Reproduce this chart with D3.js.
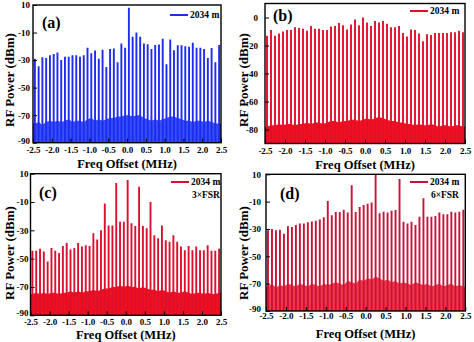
<!DOCTYPE html>
<html>
<head>
<meta charset="utf-8">
<script src="https://d3js.org/d3.v7.min.js"></script>
<style>
  body { margin: 0; background: #fff; }
  text { font-family: "Liberation Serif", "Times New Roman", serif; font-weight: bold; fill: #000; }
  .tick text { font-size: 9px; }
</style>
</head>
<body>
<script>
// peak positions (MHz offset), shared by all four spectra
var freqs = [-2.45, -2.35, -2.25, -2.15, -2.05, -1.95, -1.85, -1.75, -1.65, -1.55,
             -1.45, -1.35, -1.25, -1.15, -1.05, -0.95, -0.85, -0.75, -0.65, -0.55,
             -0.45, -0.35, -0.25, -0.15, -0.05, 0.05, 0.15, 0.25, 0.35, 0.45,
             0.55, 0.65, 0.75, 0.85, 0.95, 1.05, 1.15, 1.25, 1.35, 1.45,
             1.55, 1.65, 1.75, 1.85, 1.95, 2.05, 2.15, 2.25, 2.35, 2.45];

// (a) peak power, dBm
var peaksA = [-29, -34.5, -28, -28.5, -26.5, -25.5, -24.5, -30, -27.5, -27.5,
              -26.5, -26.5, -27.5, -26.5, -21, -25, -23, -29, -22.5, -35,
              -22, -21.5, -31.5, -18, -21, 8, -13, -10, -13, -18,
              -18.5, -22, -19, -18.7, -14.5, -33, -15, -22.8, -19.2, -19.2,
              -20, -20.4, -17.5, -21.1, -21, -22, -28.5, -21.3, -31.5, -19];
var noiseA = [-76, -75, -77, -75, -74, -75, -74, -75, -74, -73, -75, -74, -74, -75, -73, -72, -74, -73, -74, -73,
              -72, -72, -71, -71, -70, -70, -71, -70, -70, -72, -73, -74, -73, -74, -73, -72, -71, -71, -72, -73,
              -74, -74, -75, -74, -74, -75, -74, -75, -76, -76];

// (b)
var peaksB = [-13, -9, -13, -11.5, -10, -9, -9, -7, -7.5, -8,
              -9.5, -6, -8, -8, -9, -9, -6.5, -6, -4, -5.5,
              -8.5, -5, -1.5, -5.5, 0, -3.5, -6, -2.5, -3.5, -2.5,
              -4.5, -7, -7, -6, -11, -13.5, -8.5, -9, -11.5, -17,
              -12, -12.5, -11, -11, -11, -11, -10.5, -10.5, -9.5, -10.5];
var noiseB = [-78, -77, -77, -76, -77, -76, -76, -77, -76, -76, -75, -76, -75, -75, -76, -75, -74, -74, -75, -74,
              -74, -73, -73, -74, -73, -72, -73, -72, -71, -72, -73, -74, -74, -75, -75, -76, -76, -77, -76, -77,
              -77, -76, -77, -78, -77, -77, -78, -77, -77, -78];

// (c) 3xFSR
var peaksC = [-44.5, -44.5, -43, -45, -52, -42.5, -44.5, -46, -41, -39,
              -43.5, -42.5, -39, -41.5, -40.5, -41, -32, -36.5, -30, -11,
              -26.5, -26.5, 3.5, -24, -24, 5.5, -25, -27, 0.8, -27,
              -28.5, -10, -33.5, -35.5, -26.5, -37, -38, -33.5, -38, -41.5,
              -44, -41, -44, -41.5, -44, -44, -40.5, -44.5, -44.5, -43];
var noiseC = [-75, -74, -75, -74, -75, -74, -74, -75, -74, -74, -73, -74, -73, -74, -73, -73, -72, -73, -72, -71,
              -71, -70, -70, -69, -70, -69, -70, -70, -71, -70, -71, -72, -72, -73, -72, -73, -74, -73, -74, -74,
              -73, -74, -75, -74, -74, -75, -74, -75, -75, -74];

// (d) 6xFSR
var peaksD = [-31, -30, -31, -30.5, -33.5, -28, -28.5, -27, -26, -26,
              -25, -24.5, -24, -23, -21.5, -9.5, -20, -17.5, -17.5, -16,
              -18, 2, -17.5, -14, -12.5, -11.5, -10.7, 9.5, -18.5, -17.4,
              -18, -16.6, -16.1, 6.6, -24.7, -26, -24.7, -27, -21, -7.6,
              -21, -21, -20.5, -18, -19.3, -19.3, -17.4, -18, -17.4, -16];
var noiseD = [-72, -70, -73, -71, -72, -70, -71, -72, -70, -71, -72, -70, -71, -72, -70, -71, -70, -69, -70, -71,
              -68, -69, -70, -67, -68, -66, -67, -65, -66, -68, -67, -69, -68, -70, -69, -70, -71, -69, -70, -71,
              -70, -72, -71, -70, -72, -71, -70, -72, -71, -72];

var xTicks = [-2.5, -2.0, -1.5, -1.0, -0.5, 0.0, 0.5, 1.0, 1.5, 2.0, 2.5];
var yTicksACD = [10, -10, -30, -50, -70, -90];
var yTicksB = [0, -20, -40, -60, -80];

var width = 474, height = 342;

var svg = d3.select("body").append("svg")
    .attr("width", width)
    .attr("height", height);

svg.append("rect").attr("width", width).attr("height", height).attr("fill", "#fff");

var panels = [
  { id: "a", label: "(a)", peaks: peaksA, noise: noiseA, yTicks: yTicksACD,
    x0: 33, x1: 221, y0: 5, y1: 142.7, peakColor: "#1f2bf0", bandColor: "#3550f8",
    xPad: 3.5, yPad: 3, titleY: 164, yTitleX: 9, yTitleY: 80,
    labelX: 42, labelY: 28, legX: 170, legY: 15, extra: null },
  { id: "b", label: "(b)", peaks: peaksB, noise: noiseB, yTicks: yTicksB,
    x0: 265, x1: 465, y0: 3.5, y1: 143.5, peakColor: "#e0102a", bandColor: "#f2101e",
    xPad: 4, yPad: 7, titleY: 164.5, yTitleX: 243, yTitleY: 80,
    labelX: 273, labelY: 21, legX: 410, legY: 11, extra: null },
  { id: "c", label: "(c)", peaks: peaksC, noise: noiseC, yTicks: yTicksACD,
    x0: 30.5, x1: 221, y0: 173.7, y1: 315.3, peakColor: "#dc102e", bandColor: "#f2101e",
    xPad: 3, yPad: 2, titleY: 334.5, yTitleX: 9, yTitleY: 253,
    labelX: 39, labelY: 198, legX: 171, legY: 182, extra: "3×FSR" },
  { id: "d", label: "(d)", peaks: peaksD, noise: noiseD, yTicks: yTicksACD,
    x0: 266, x1: 465.3, y0: 174.3, y1: 311, peakColor: "#c81238", bandColor: "#ee1428",
    xPad: 1.5, yPad: 5, titleY: 334, yTitleX: 243, yTitleY: 253,
    labelX: 280, labelY: 199, legX: 410, legY: 182, extra: "6×FSR" }
];

panels.forEach(drawPanel);

function drawPanel(p) {
  var x = d3.scaleLinear().domain([-2.5, 2.5]).range([p.x0, p.x1]);
  var y = d3.scaleLinear().domain([-90, 10]).range([p.y1, p.y0]);

  var g = svg.append("g");

  svg.append("clipPath").attr("id", "clip-" + p.id)
    .append("rect")
    .attr("x", p.x0).attr("y", p.y0)
    .attr("width", p.x1 - p.x0).attr("height", p.y1 - p.y0);

  var plot = g.append("g").attr("clip-path", "url(#clip-" + p.id + ")");

  // noise floor band
  var pts = [{ f: -2.5, n: p.noise[0] }];
  freqs.forEach(function(f, i) { pts.push({ f: f, n: p.noise[i] }); });
  pts.push({ f: 2.5, n: p.noise[p.noise.length - 1] });

  var area = d3.area()
    .x(function(d) { return x(d.f); })
    .y0(y(-90))
    .y1(function(d) { return y(d.n); });

  plot.append("path")
    .datum(pts)
    .attr("d", area)
    .attr("fill", p.bandColor)
    .attr("fill-opacity", p.id == "d" ? 0.85 : 1);

  // comb lines
  plot.selectAll(".peak")
    .data(freqs)
    .enter()
    .append("line")
    .attr("class", "peak")
    .attr("x1", function(d) { return x(d); })
    .attr("x2", function(d) { return x(d); })
    .attr("y1", y(-90))
    .attr("y2", function(d, i) { return y(p.peaks[i]); })
    .attr("stroke", p.peakColor)
    .attr("stroke-width", 1.9);

  // axes, ticks pointing inward
  var xAxis = g.append("g")
    .attr("transform", "translate(0," + p.y1 + ")")
    .call(d3.axisBottom(x).tickValues(xTicks).tickSize(-4).tickPadding(p.xPad)
      .tickFormat(function(d) { return d.toFixed(1); }));
  xAxis.select(".domain").remove();

  var yAxis = g.append("g")
    .attr("transform", "translate(" + p.x0 + ",0)")
    .call(d3.axisLeft(y).tickValues(p.yTicks).tickSize(-4).tickPadding(p.yPad)
      .tickFormat(function(d) { return String(d); }));
  yAxis.select(".domain").remove();
  yAxis.selectAll("line").attr("stroke-width", 1);
  // lift the bottom label a little so it clears the first x label
  yAxis.selectAll(".tick text").filter(function(d) { return d == -90; }).attr("dy", "0.05em");

  // frame
  g.append("rect")
    .attr("x", p.x0).attr("y", p.y0)
    .attr("width", p.x1 - p.x0).attr("height", p.y1 - p.y0)
    .attr("fill", "none")
    .attr("stroke", "#000")
    .attr("stroke-width", 1.4);

  // axis titles
  g.append("text")
    .attr("x", (p.x0 + p.x1) / 2)
    .attr("y", p.titleY + 4.3)
    .attr("text-anchor", "middle")
    .style("font-size", "12.5px")
    .text("Freq Offset (MHz)");

  g.append("text")
    .attr("transform", "translate(" + (p.yTitleX + 4.5) + "," + p.yTitleY + ") rotate(-90)")
    .attr("text-anchor", "middle")
    .style("font-size", "13px")
    .text("RF Power (dBm)");

  // panel letter
  g.append("text")
    .attr("x", p.labelX)
    .attr("y", p.labelY)
    .style("font-size", "16px")
    .text(p.label);

  // legend
  g.append("line")
    .attr("x1", p.legX).attr("x2", p.legX + 18)
    .attr("y1", p.legY).attr("y2", p.legY)
    .attr("stroke", p.peakColor)
    .attr("stroke-width", 2);

  g.append("text")
    .attr("x", p.legX + 20)
    .attr("y", p.legY + 3.3)
    .style("font-size", "9.5px")
    .text("2034 m");

  if (p.extra) {
    g.append("text")
      .attr("x", p.legX + 49)
      .attr("y", p.legY + 15.5)
      .attr("text-anchor", "end")
      .style("font-size", "9.5px")
      .text(p.extra);
  }
}
</script>
</body>
</html>
